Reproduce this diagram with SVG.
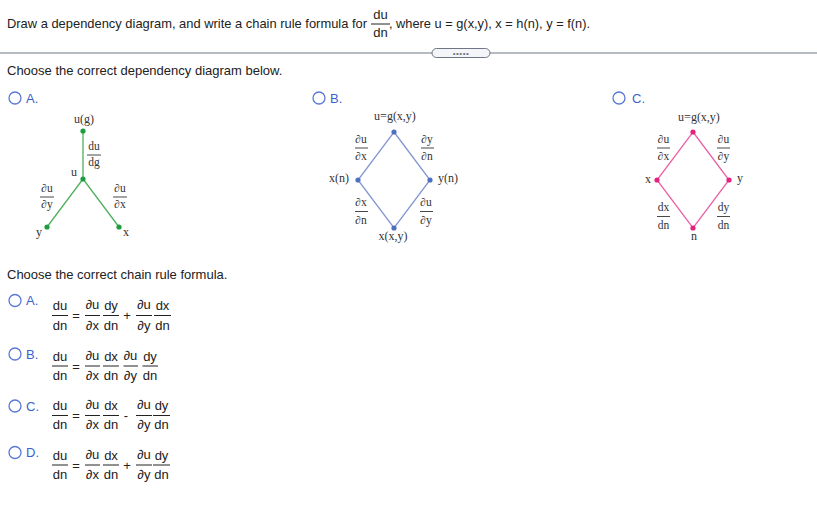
<svg xmlns="http://www.w3.org/2000/svg" width="817" height="517" viewBox="0 0 817 517">
<style>
.t{font-family:"Liberation Sans",Arial,sans-serif;font-size:13px;fill:#222}
.fs{font-family:"Liberation Sans",Arial,sans-serif;font-size:13px;fill:#222;text-anchor:middle}
.opt{font-family:"Liberation Sans",Arial,sans-serif;font-size:13px;fill:#3d5fcf}
.radio{fill:#fff;stroke:#5a78d8;stroke-width:1.3}
.sl{font-family:"Liberation Serif","Times New Roman",serif;font-size:12px;fill:#333}
.sf{font-family:"Liberation Serif","Times New Roman",serif;font-size:11.5px;fill:#333;text-anchor:middle}
.bar{stroke:#222;stroke-width:1}
.sbar{stroke:#333;stroke-width:0.9}
.gl{stroke:#4cb05a;stroke-width:1.3;fill:none}
.gd{fill:#1e9c3e}
.bl{stroke:#8396d2;stroke-width:1.3;fill:none}
.bd{fill:#4f70c2}
.pl{stroke:#eb63a6;stroke-width:1.3;fill:none}
.pd{fill:#e3217f}
</style>

<g id="header">
<text class="t" x="7" y="28" textLength="360" lengthAdjust="spacingAndGlyphs">Draw a dependency diagram, and write a chain rule formula for</text>
<text class="fs" x="380.5" y="18.5">du</text>
<line class="bar" x1="371" y1="24" x2="390" y2="24"/>
<text class="fs" x="380.5" y="36.5">dn</text>
<text class="t" x="389" y="28" textLength="201" lengthAdjust="spacingAndGlyphs">, where u = g(x,y), x = h(n), y = f(n).</text>
<line x1="0" y1="53" x2="817" y2="53" stroke="#6e7683" stroke-width="1.2"/>
<rect x="432" y="48.5" width="58" height="9" rx="4.5" fill="#f3f5f8" stroke="#6e7683" stroke-width="1"/>
<text x="461" y="55.5" font-family="Liberation Sans,Arial,sans-serif" font-size="8" fill="#6e7683" text-anchor="middle" letter-spacing="0.5">•••••</text>
</g>

<g id="q1">
<text class="t" x="7" y="75">Choose the correct dependency diagram below.</text>
</g>

<!-- Diagram A -->
<g id="optA-diagram">
<circle class="radio" cx="15" cy="98" r="6"/>
<text class="opt" x="26" y="103">A.</text>
<g id="connA">
<line class="gl" x1="83" y1="131" x2="83" y2="179"/>
<line class="gl" x1="83" y1="179" x2="47" y2="227"/>
<line class="gl" x1="83" y1="179" x2="119" y2="227"/>
</g>
<g id="A-ug"><circle class="gd" cx="83" cy="131" r="2.6"/><text class="sl" x="84" y="123" text-anchor="middle">u(g)</text></g>
<g id="A-u"><circle class="gd" cx="83" cy="179" r="2.6"/><text class="sl" x="77" y="176" text-anchor="end">u</text></g>
<g id="A-y"><circle class="gd" cx="47" cy="227" r="2.6"/><text class="sl" x="39" y="236" text-anchor="middle">y</text></g>
<g id="A-x"><circle class="gd" cx="119" cy="227" r="2.6"/><text class="sl" x="126" y="236" text-anchor="middle">x</text></g>
<g id="A-labels">
<text class="sf" x="94" y="150">du</text><line class="sbar" x1="87" y1="155" x2="101" y2="155"/><text class="sf" x="94" y="166">dg</text>
<text class="sf" x="47" y="192">∂u</text><line class="sbar" x1="40" y1="197" x2="54" y2="197"/><text class="sf" x="47" y="208">∂y</text>
<text class="sf" x="120" y="192">∂u</text><line class="sbar" x1="113" y1="197" x2="127" y2="197"/><text class="sf" x="120" y="208">∂x</text>
</g>
</g>

<!-- Diagram B -->
<g id="optB-diagram">
<circle class="radio" cx="319" cy="98" r="6"/>
<text class="opt" x="330" y="103">B.</text>
<g id="connB">
<polygon class="bl" points="394,132 430,180 394,228 358,180"/>
</g>
<g id="B-top"><circle class="bd" cx="394" cy="132" r="2.6"/><text class="sl" x="395" y="120" text-anchor="middle">u=g(x,y)</text></g>
<g id="B-left"><circle class="bd" cx="358" cy="180" r="2.6"/><text class="sl" x="349" y="182" text-anchor="end">x(n)</text></g>
<g id="B-right"><circle class="bd" cx="430" cy="180" r="2.6"/><text class="sl" x="438" y="182">y(n)</text></g>
<g id="B-bottom"><circle class="bd" cx="394" cy="228" r="2.6"/><text class="sl" x="393" y="240" text-anchor="middle">x(x,y)</text></g>
<g id="B-labels">
<text class="sf" x="361" y="143">∂u</text><line class="sbar" x1="355" y1="148" x2="368" y2="148"/><text class="sf" x="361" y="160">∂x</text>
<text class="sf" x="427" y="143">∂y</text><line class="sbar" x1="421" y1="148" x2="434" y2="148"/><text class="sf" x="427" y="160">∂n</text>
<text class="sf" x="361" y="206">∂x</text><line class="sbar" x1="355" y1="211.5" x2="368" y2="211.5"/><text class="sf" x="361" y="224">∂n</text>
<text class="sf" x="426" y="206">∂u</text><line class="sbar" x1="420" y1="211.5" x2="433" y2="211.5"/><text class="sf" x="426" y="224">∂y</text>
</g>
</g>

<!-- Diagram C -->
<g id="optC-diagram">
<circle class="radio" cx="619" cy="98" r="6"/>
<text class="opt" x="632" y="103">C.</text>
<g id="connC">
<polygon class="pl" points="693,132 729,180 693,228 657,180"/>
</g>
<g id="C-top"><circle class="pd" cx="693" cy="132" r="2.6"/><text class="sl" x="699" y="121" text-anchor="middle">u=g(x,y)</text></g>
<g id="C-left"><circle class="pd" cx="657" cy="180" r="2.6"/><text class="sl" x="651" y="183" text-anchor="end">x</text></g>
<g id="C-right"><circle class="pd" cx="729" cy="180" r="2.6"/><text class="sl" x="737" y="182">y</text></g>
<g id="C-bottom"><circle class="pd" cx="693" cy="228" r="2.6"/><text class="sl" x="694" y="240" text-anchor="middle">n</text></g>
<g id="C-labels">
<text class="sf" x="663.5" y="143">∂u</text><line class="sbar" x1="657" y1="148" x2="670" y2="148"/><text class="sf" x="663.5" y="160">∂x</text>
<text class="sf" x="723.5" y="143">∂u</text><line class="sbar" x1="717" y1="148" x2="730" y2="148"/><text class="sf" x="723.5" y="160">∂y</text>
<text class="sf" x="663.5" y="211">dx</text><line class="sbar" x1="657" y1="216.5" x2="670" y2="216.5"/><text class="sf" x="663.5" y="229">dn</text>
<text class="sf" x="723.5" y="211">dy</text><line class="sbar" x1="717" y1="216.5" x2="730" y2="216.5"/><text class="sf" x="723.5" y="229">dn</text>
</g>
</g>

<g id="q2">
<text class="t" x="7" y="279">Choose the correct chain rule formula.</text>
</g>

<!-- Formula A -->
<g id="formA">
<circle class="radio" cx="15" cy="300.5" r="6"/>
<text class="opt" x="26" y="305">A.</text>
<text class="fs" x="60" y="310">du</text><line class="bar" x1="52" y1="315.5" x2="68" y2="315.5"/><text class="fs" x="60" y="330">dn</text>
<text class="fs" x="76" y="320">=</text>
<text class="fs" x="92.5" y="309">∂u</text><line class="bar" x1="85" y1="315.5" x2="100" y2="315.5"/><text class="fs" x="92.5" y="330">∂x</text>
<text class="fs" x="111" y="310">dy</text><line class="bar" x1="103" y1="315.5" x2="119" y2="315.5"/><text class="fs" x="111" y="330">dn</text>
<text class="fs" x="127" y="320">+</text>
<text class="fs" x="144" y="309">∂u</text><line class="bar" x1="136" y1="315.5" x2="152" y2="315.5"/><text class="fs" x="144" y="330">∂y</text>
<text class="fs" x="162.5" y="310">dx</text><line class="bar" x1="154" y1="315.5" x2="171" y2="315.5"/><text class="fs" x="162.5" y="330">dn</text>
</g>

<!-- Formula B -->
<g id="formB">
<circle class="radio" cx="15" cy="354" r="6"/>
<text class="opt" x="26" y="358.5">B.</text>
<text class="fs" x="60" y="361">du</text><line class="bar" x1="52" y1="366" x2="68" y2="366"/><text class="fs" x="60" y="380">dn</text>
<text class="fs" x="76" y="370.5">=</text>
<text class="fs" x="92.5" y="360">∂u</text><line class="bar" x1="85" y1="366" x2="100" y2="366"/><text class="fs" x="92.5" y="380">∂x</text>
<text class="fs" x="111" y="361">dx</text><line class="bar" x1="103" y1="366" x2="119" y2="366"/><text class="fs" x="111" y="380">dn</text>
<text class="fs" x="130.5" y="360">∂u</text><line class="bar" x1="123.5" y1="366" x2="138" y2="366"/><text class="fs" x="130.5" y="380">∂y</text>
<text class="fs" x="150" y="361">dy</text><line class="bar" x1="142.5" y1="366" x2="158" y2="366"/><text class="fs" x="150" y="380">dn</text>
</g>

<!-- Formula C -->
<g id="formC">
<circle class="radio" cx="15" cy="406" r="6"/>
<text class="opt" x="26" y="410.5">C.</text>
<text class="fs" x="60" y="410">du</text><line class="bar" x1="52" y1="415.5" x2="68" y2="415.5"/><text class="fs" x="60" y="429">dn</text>
<text class="fs" x="76" y="420">=</text>
<text class="fs" x="92.5" y="409">∂u</text><line class="bar" x1="85" y1="415.5" x2="100" y2="415.5"/><text class="fs" x="92.5" y="429">∂x</text>
<text class="fs" x="111" y="410">dx</text><line class="bar" x1="103" y1="415.5" x2="119" y2="415.5"/><text class="fs" x="111" y="429">dn</text>
<text class="fs" x="126" y="419.5">-</text>
<text class="fs" x="144" y="409">∂u</text><line class="bar" x1="136" y1="415.5" x2="152" y2="415.5"/><text class="fs" x="144" y="429">∂y</text>
<text class="fs" x="161.5" y="410">dy</text><line class="bar" x1="153" y1="415.5" x2="170" y2="415.5"/><text class="fs" x="161.5" y="429">dn</text>
</g>

<!-- Formula D -->
<g id="formD">
<circle class="radio" cx="15" cy="452.5" r="6"/>
<text class="opt" x="26" y="457">D.</text>
<text class="fs" x="60" y="460">du</text><line class="bar" x1="52" y1="465" x2="68" y2="465"/><text class="fs" x="60" y="479">dn</text>
<text class="fs" x="76" y="469.5">=</text>
<text class="fs" x="92.5" y="459">∂u</text><line class="bar" x1="85" y1="465" x2="100" y2="465"/><text class="fs" x="92.5" y="479">∂x</text>
<text class="fs" x="111" y="460">dx</text><line class="bar" x1="103" y1="465" x2="119" y2="465"/><text class="fs" x="111" y="479">dn</text>
<text class="fs" x="127" y="469.5">+</text>
<text class="fs" x="144" y="459">∂u</text><line class="bar" x1="136" y1="465" x2="152" y2="465"/><text class="fs" x="144" y="479">∂y</text>
<text class="fs" x="161.5" y="460">dy</text><line class="bar" x1="153" y1="465" x2="170" y2="465"/><text class="fs" x="161.5" y="479">dn</text>
</g>
</svg>
